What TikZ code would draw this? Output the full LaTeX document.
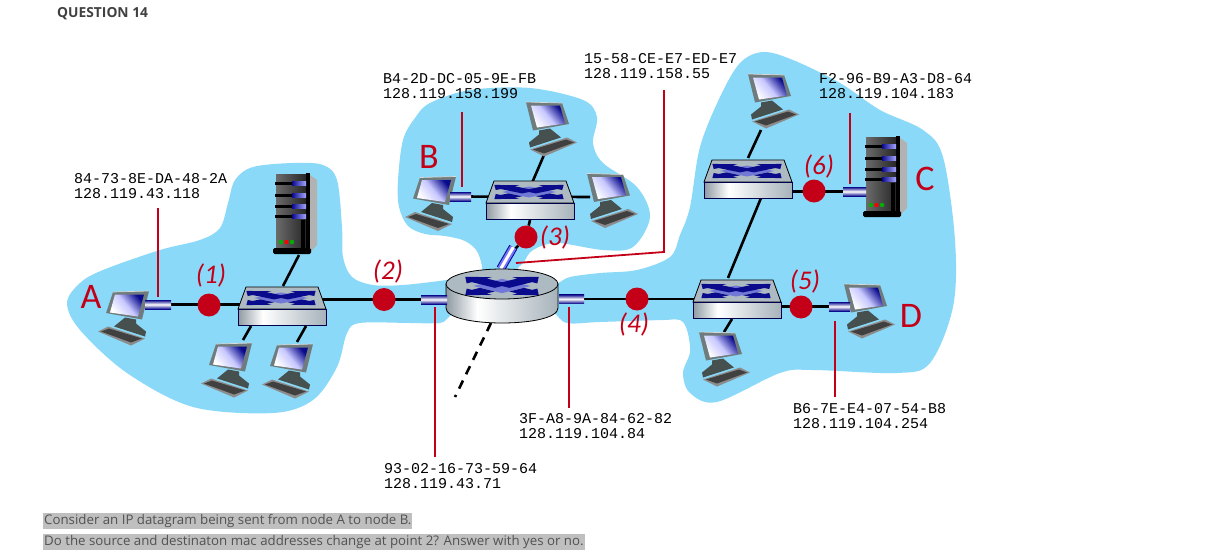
\documentclass[tikz,border=0pt]{standalone}
\usepackage{fontspec}
\setmainfont{Open Sans}
\newfontfamily\addrfont{Liberation Mono}
\newfontfamily\tagfont{Carlito}
\usetikzlibrary{backgrounds}
\definecolor{netblue}{HTML}{8AD9F8}
\definecolor{markred}{HTML}{C40018}
\definecolor{navy}{HTML}{0A0A8C}
\definecolor{facegray}{HTML}{AEBAC2}
\definecolor{sideL}{HTML}{8E9AA2}
\definecolor{sideR}{HTML}{A6B2BA}
\definecolor{bezel}{HTML}{6F7B7C}
\definecolor{stand}{HTML}{46504F}
\pgfdeclarehorizontalshading{bodyshade}{100bp}{color(0bp)=(sideL); color(25bp)=(sideL); color(39bp)=(white); color(75bp)=(sideR); color(100bp)=(sideR)}
\tikzset{
  link/.style={line width=2.6pt,black},
  callout/.style={line width=1.8pt,markred,shorten >=3pt},
  dot/.style={circle,fill=markred,minimum width=23pt,minimum height=22pt,inner sep=0pt},
  nic/.style={rectangle,minimum width=#1,minimum height=9pt,inner sep=0pt,top color=navy,bottom color=navy,middle color=white},
  nic/.default=24pt,
  addr/.style={anchor=west,align=left,inner sep=0pt,font=\addrfont\fontsize{15}{15}\selectfont},
  hostlabel/.style={inner sep=0pt,text=markred,font=\tagfont\fontsize{36}{36}\selectfont},
  pointlabel/.style={inner sep=0pt,text=markred,font=\tagfont\itshape\fontsize{27}{27}\selectfont},
  qline/.style={anchor=west,fill=black!25,inner xsep=1pt,inner ysep=1pt,text=black!68,text height=10.5pt,text depth=3.8pt,font=\fontsize{13.27}{14}\selectfont},
  crossarrows/.pic={
    \fill[blue!35!facegray] (-.55,0) -- (0,-.55) -- (.55,0) -- (0,.55) -- cycle;
    \foreach \ang/\start in {45/0,135/0,225/.4,315/.4}
      \fill[navy,rotate=\ang] (\start,-.2) -- (.62,-.2) -- (.62,-.34) -- (1,0) -- (.62,.34) -- (.62,.2) -- (\start,.2) -- cycle;
  },
  swbox/.pic={
    \path[draw=black,line width=.8pt,fill=facegray] (-36,-18) -- (36,-18) -- (44,4) -- (-44,4) -- cycle;
    \pic[xscale=49,yscale=10] at (-1,-7) {crossarrows};
    \path[draw=black!70!blue,line width=.8pt,shading=bodyshade] (-44,4) rectangle (44,20);
  },
  routerdisk/.pic={
    \path[draw=black,line width=.8pt,shading=bodyshade] (-56,0) -- (-56,24) .. controls (-56,44) and (56,44) .. (56,24) -- (56,0) -- cycle;
    \path[draw=black,line width=.8pt,fill=facegray] (0,0) ellipse [x radius=56,y radius=15];
    \pic[xscale=52,yscale=13] at (0,2) {crossarrows};
  },
  hostpc/.pic={
    \fill[stand] (27,36) -- (38,38) -- (38,42) -- (48,50) -- (47,55) -- (16,45) -- cycle;
    \fill[black!45] (0,50) -- (10,45) -- (47,57) -- (33,64) -- cycle;
    \fill[black!75] (3,50) -- (11,47) -- (44,57) -- (33,61) -- cycle;
    \fill[bezel] (15,10.5) -- (51,9.5) -- (44,38) -- (8,31.5) -- cycle;
    \draw[black!15,line width=.7pt] (15,10.5) -- (51,9.5);
    \shade[top color=navy,bottom color=white,middle color=blue!22!white,shading angle=-50] (17,13) -- (46,13) -- (40,35) -- (12,31) -- cycle;
  },
  serverbox/.pic={
    \fill[black!30] (45,10) -- (52,15) -- (52,80) -- (45,87) -- cycle;
    \shade[left color=black!58,right color=black!85] (11,9) rectangle (41,83);
    \fill[black] (41,8) rectangle (45,84);
    \fill[black,rounded corners=1.5pt] (8,83) rectangle (46,89);
    \foreach \yy in {18.5,30,41,51.5} {
      \fill[black] (10,\yy-1.5) rectangle (42,\yy+1.5);
      \shade[left color=navy,right color=blue!35!white] (27,\yy-2) rectangle (41,\yy+2);
    }
    \fill[black] (36,55) rectangle (40,83);
    \fill[green!70!black] (16,77) circle (2.2);
    \fill[red] (21.5,77) circle (2.2);
    \fill[green!70!black] (27,77) circle (2.2);
  }
}

\begin{document}
\begin{tikzpicture}[x=1pt,y=-1pt]
  \useasboundingbox (0,0) rectangle (1227,554);
  %interfaccia obliqua
  \coordinate (nicN) at (507,258);
  \coordinate (nicNa) at (500.75,268.8);
  \coordinate (nicNb) at (513.25,247.2);
  \foreach \wd/\col in {9/navy,7/blue!55!white,3/white}
    \draw[line width=\wd pt,\col] (nicNa) -- (nicNb);
  %apparati
  \coordinate (swA) at (282,305);
  \coordinate (swB) at (530,199);
  \coordinate (swC) at (748,178);
  \coordinate (swD) at (737,298);
  \coordinate (rt) at (502,284);
  \coordinate (srvA) at (265,165);
  \coordinate (srvC) at (855,128);
  \pic at (swA) {swbox};
  \pic at (swB) {swbox};
  \pic at (swC) {swbox};
  \pic at (swD) {swbox};
  \pic at (rt) {routerdisk};
  \pic at (srvA) {serverbox};
  \pic at (srvC) {serverbox};
  \pic at (98,281.5) {hostpc};
  \pic at (201,333.5) {hostpc};
  \pic at (262,334.5) {hostpc};
  \pic at (405,167) {hostpc};
  \pic[xscale=-1] at (577,92.5) {hostpc};
  \pic[xscale=-1] at (638,164) {hostpc};
  \pic[xscale=-1] at (799,64.5) {hostpc};
  \pic[xscale=-1] at (750,322.5) {hostpc};
  \pic[xscale=-1] at (895,274.5) {hostpc};
  %porte
  \coordinate (srvAport) at (299,255);
  \coordinate (swAtop) at (283,286);
  \coordinate (swAdl) at (251,326);
  \coordinate (pcAl) at (243,340);
  \coordinate (swAdr) at (306,326);
  \coordinate (pcAr) at (297,342);
  \coordinate (swBup) at (532,183);
  \coordinate (pcBt) at (544,155);
  \coordinate (pcBr) at (590,197);
  \coordinate (swBdn) at (530,220);
  \coordinate (swDup) at (728,278);
  \coordinate (swCdn) at (761,198);
  \coordinate (swCup) at (748,158);
  \coordinate (pcCt) at (761,130);
  \coordinate (swDdn) at (732,319);
  \coordinate (pcDb) at (724,332);
  \coordinate (rtdn) at (491,323);
  \coordinate (dashend) at (455,397);
  %interfacce e punti
  \node[nic=26pt] (nicA) at (158,304.5) {};
  \node[nic=21pt] (nicB) at (460.5,196.5) {};
  \node[nic=23pt] (nicC) at (854.5,191.5) {};
  \node[nic=21pt] (nicD) at (839.5,306.5) {};
  \node[nic=26pt] (nicW) at (434,299.5) {};
  \node[nic=25pt] (nicE) at (571.5,299) {};
  \node[dot] (p1) at (209,305) {};
  \node[dot] (p2) at (384,299.5) {};
  \node[dot] (p3) at (526,237) {};
  \node[dot] (p4) at (637,299) {};
  \node[dot] (p5) at (801,307) {};
  \node[dot] (p6) at (814,191) {};
  \begin{scope}[on background layer]
    %rete
    \fill[netblue] plot[smooth cycle,tension=.55] coordinates {
      (67,303) (80,283) (103,270) (160,250) (200,240) (220,228) (228,203) (235,180)
      (253,167) (293,163) (323,165) (337,180) (342,227) (343,257) (352,277) (373,285)
      (403,285) (447,280) (480,275) (478,253) (465,241) (445,236) (425,234) (408,226)
      (399,207) (398,180) (403,140) (415,118) (430,103) (470,90) (530,88) (583,100)
      (597,117) (593,143) (603,163) (637,187) (650,217) (633,247) (603,250) (557,243)
      (533,250) (524,262) (518,272) (545,285) (558,283) (570,277) (600,273) (637,270)
      (670,257) (680,235) (690,207) (700,147) (720,97) (740,63) (763,52) (793,60)
      (840,83) (880,110) (923,130) (943,157) (955,240) (953,307) (930,363) (897,373)
      (813,370) (780,373) (717,402) (690,393) (683,373) (690,352) (687,330) (680,320)
      (663,320) (600,322) (567,323) (553,312) (530,300) (470,300) (450,316) (440,323)
      (410,323) (360,323) (347,333) (337,367) (313,400) (273,413) (193,407) (127,373) (80,330)};
    %collegamenti
    \draw[link] (nicA) -- (nicA -| swA);
    \draw[link] (nicW) -- (nicW -| swA);
    \draw[link] (srvAport) -- (swAtop);
    \draw[link] (swAdl) -- (pcAl);
    \draw[link] (swAdr) -- (pcAr);
    \draw[link] (nicB) -- (pcBr);
    \draw[link] (swBup) -- (pcBt);
    \draw[link] (swBdn) -- (p3) -- (nicN);
    \draw[link] (nicE) -- (nicE -| swD);
    \draw[link] (swDup) -- (swCdn);
    \draw[link] (swCup) -- (pcCt);
    \draw[link] (swDdn) -- (pcDb);
    \draw[link] (nicD) -- (nicD -| swD);
    \draw[link] (nicC) -- (nicC -| swC);
    \draw[link,dash pattern=on 9pt off 7pt] (rtdn) -- (dashend);
  \end{scope}
  %indirizzi
  \node[addr] (addrA) at (74,186) {84-73-8E-DA-48-2A\\128.119.43.118};
  \node[addr] (addrB) at (383,86) {B4-2D-DC-05-9E-FB\\128.119.158.199};
  \node[addr] (addrN) at (584,66) {15-58-CE-E7-ED-E7\\128.119.158.55};
  \node[addr] (addrC) at (819,86) {F2-96-B9-A3-D8-64\\128.119.104.183};
  \node[addr] (addrW) at (384,476) {93-02-16-73-59-64\\128.119.43.71};
  \node[addr] (addrE) at (519,426) {3F-A8-9A-84-62-82\\128.119.104.84};
  \node[addr] (addrD) at (793,416) {B6-7E-E4-07-54-B8\\128.119.104.254};
  %rosso
  \coordinate (tagA) at (158,208);
  \coordinate (tagB) at (462,112);
  \coordinate (tagN) at (664,90);
  \coordinate (bendN) at (664,252);
  \coordinate (endN) at (516,263);
  \coordinate (tagC) at (850,113);
  \coordinate (tagD) at (835,397);
  \coordinate (tagW) at (435,457);
  \coordinate (tagE) at (569,408);
  \draw[callout] (tagA) -- (tagA |- nicA.north);
  \draw[callout,shorten >=5pt] (tagB) -- (tagB |- nicB.north);
  \draw[line width=1.8pt,markred] (tagN) -- (bendN) -- (endN);
  \draw[callout] (tagC) -- (tagC |- nicC.north);
  \draw[callout,shorten >=10pt] (tagD) -- (tagD |- nicD.south);
  \draw[callout] (tagW) -- (tagW |- nicW.south);
  \draw[callout] (tagE) -- (tagE |- nicE.south);
  %etichette
  \node[hostlabel] (labA) at (91,297) {A};
  \node[hostlabel] (labB) at (429,157) {B};
  \node[hostlabel] (labC) at (925,179) {C};
  \node[hostlabel] (labD) at (911,316) {D};
  \node[pointlabel] (lab1) at (211,275) {(1)};
  \node[pointlabel] (lab2) at (388,271) {(2)};
  \node[pointlabel] (lab3) at (555,237) {(3)};
  \node[pointlabel] (lab4) at (634,324) {(4)};
  \node[pointlabel] (lab5) at (805,281) {(5)};
  \node[pointlabel] (lab6) at (819,166) {(6)};
  %testo
  \node[anchor=west,inner sep=0pt,text=black!75,font=\bfseries\fontsize{13.8}{14}\selectfont] (title) at (57,13.5) {QUESTION 14};
  \node[qline] (q1) at (43,521) {Consider an IP datagram being sent from node A to node B.};
  \node[qline] (q2) at (43,542) {Do the source and destinaton mac addresses change at point 2? Answer with yes or no.};
\end{tikzpicture}
\end{document}
